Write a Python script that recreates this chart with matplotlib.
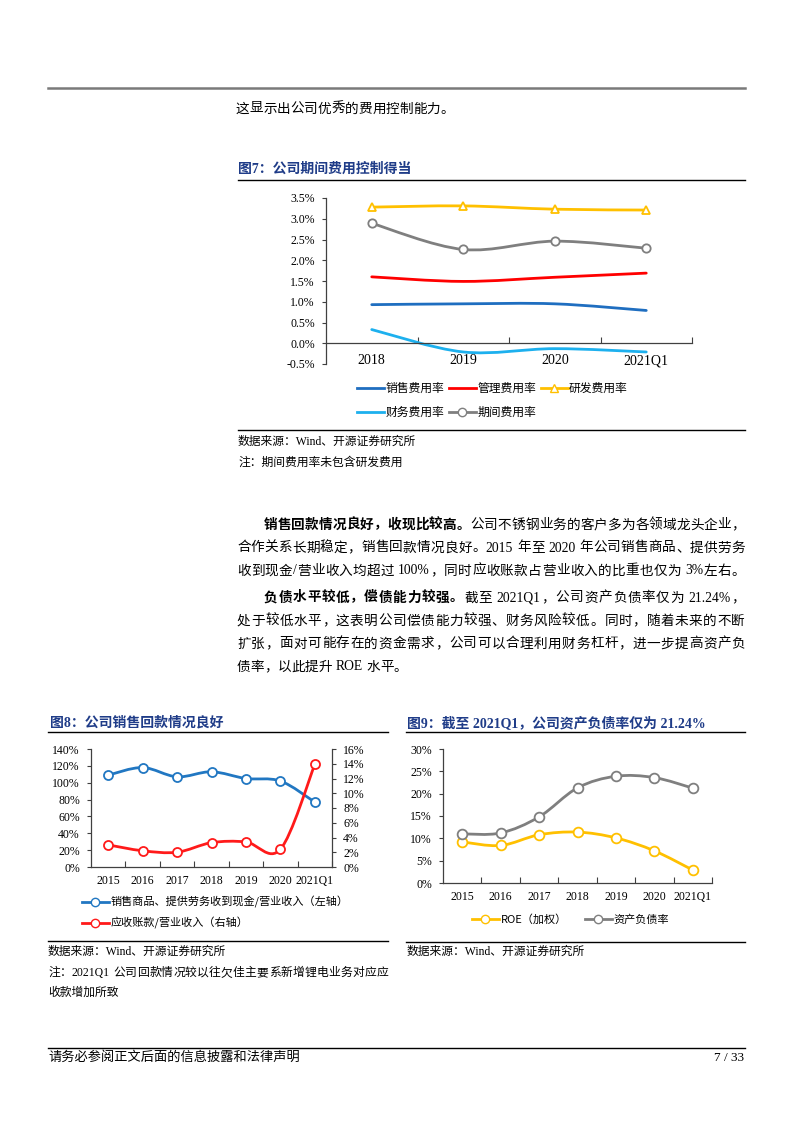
import matplotlib
matplotlib.use('Agg')
import matplotlib.pyplot as plt
from matplotlib.lines import Line2D
from matplotlib.path import Path
from matplotlib.patches import PathPatch

plt.rcParams['font.family'] = ['Liberation Serif', 'Noto Sans CJK SC']

W, H = 793, 1122
NAVY = '#1F3C88'
AXC = '#404040'

# ---- data: figure 7 ----
f7_cats = ['2018', '2019', '2020', '2021Q1']
f7_sales = [0.93, 0.95, 0.95, 0.79]
f7_admin = [1.60, 1.49, 1.59, 1.69]
f7_rd = [3.28, 3.31, 3.23, 3.21]
f7_fin = [0.33, -0.21, -0.13, -0.21]
f7_period = [2.89, 2.26, 2.46, 2.29]
f7_yticks = [-0.5, 0.0, 0.5, 1.0, 1.5, 2.0, 2.5, 3.0, 3.5]
f7_ylabels = ['-0.5%', '0.0%', '0.5%', '1.0%', '1.5%', '2.0%', '2.5%', '3.0%', '3.5%']

# ---- data: figure 8 ----
f8_cats = ['2015', '2016', '2017', '2018', '2019', '2020', '2021Q1']
f8_cash = [109, 118, 107, 113, 105, 102, 77]
f8_recv = [3.0, 2.2, 2.0, 3.3, 3.4, 2.4, 13.9]
f8_left = [0, 20, 40, 60, 80, 100, 120, 140]
f8_right = [0, 2, 4, 6, 8, 10, 12, 14, 16]

# ---- data: figure 9 ----
f9_cats = ['2015', '2016', '2017', '2018', '2019', '2020', '2021Q1']
f9_roe = [9.2, 8.4, 10.8, 11.4, 10.1, 7.2, 2.9]
f9_debt = [11.0, 11.2, 14.8, 21.3, 23.9, 23.6, 21.24]
f9_yticks = [0, 5, 10, 15, 20, 25, 30]

fig = plt.figure(figsize=(W / 100, H / 100), dpi=100)
renderer = fig.canvas.get_renderer()


def fx(x):
    return x / W


def fy(y):
    return 1 - y / H


def add_ax(x0, y0, x1, y1):
    return fig.add_axes([fx(x0), fy(y1), (x1 - x0) / W, (y1 - y0) / H])


def hline(x0, x1, y, lw=1.0, color='black'):
    fig.add_artist(Line2D([fx(x0), fx(x1)], [fy(y), fy(y)], transform=fig.transFigure,
                          lw=lw, color=color))


def txt(x, y, s, size=8.5, ha='left', **kw):
    return fig.text(fx(x), fy(y), s, fontsize=size, ha=ha, va='center', **kw)


def tokenize(s):
    out, buf = [], ''
    for ch in s:
        if ord(ch) < 128 and ch != ' ':
            buf += ch
        else:
            if buf:
                out.append(buf)
                buf = ''
            out.append(ch)
    if buf:
        out.append(buf)
    return out


def text_line(x0, x1, y, segments, size=9.8, justify=True):
    # place tokens one by one, spreading leftover room between them
    items = []
    for s, bold in segments:
        for tk in tokenize(s):
            items.append((tk, bold))
    arts, widths = [], []
    for tk, bold in items:
        if tk == ' ':
            arts.append(None)
            widths.append(size * 100 / 72 * 0.25)
            continue
        t = txt(x0, y, tk, size=size, weight='bold' if bold else 'normal')
        arts.append(t)
        widths.append(t.get_window_extent(renderer).width)
    gap = 0
    if justify and len(items) > 1:
        gap = (x1 - x0 - sum(widths)) / (len(items) - 1)
    x = x0
    for a, w in zip(arts, widths):
        if a is not None:
            a.set_x(fx(x))
        x += w + gap


def smooth(ax, xs, ys, color, lw=2.0, zorder=2):
    pts = list(zip(xs, ys))
    verts, codes = [pts[0]], [Path.MOVETO]
    for i in range(len(pts) - 1):
        p0 = pts[i - 1] if i > 0 else pts[i]
        p1, p2 = pts[i], pts[i + 1]
        p3 = pts[i + 2] if i + 2 < len(pts) else pts[i + 1]
        c1 = (p1[0] + (p2[0] - p0[0]) / 6, p1[1] + (p2[1] - p0[1]) / 6)
        c2 = (p2[0] - (p3[0] - p1[0]) / 6, p2[1] - (p3[1] - p1[1]) / 6)
        verts += [c1, c2, p2]
        codes += [Path.CURVE4] * 3
    ax.add_patch(PathPatch(Path(verts, codes), fill=False, edgecolor=color, lw=lw,
                           zorder=zorder, capstyle='round', joinstyle='round'))


def style_axes(ax, cats, pad):
    n = len(cats)
    ax.set_xlim(0, n)
    for s in ['top', 'right']:
        ax.spines[s].set_visible(False)
    for s in ['left', 'bottom']:
        ax.spines[s].set_color(AXC)
        ax.spines[s].set_linewidth(0.9)
    ax.set_xticks(range(1, n + 1))
    ax.set_xticklabels([])
    ax.set_xticks([i + 0.5 for i in range(n)], minor=True)
    ax.set_xticklabels(cats, minor=True, fontsize=8.5)
    ax.tick_params(axis='x', which='major', direction='in', length=4, color=AXC)
    ax.tick_params(axis='x', which='minor', length=0, pad=pad)
    ax.tick_params(axis='y', direction='out', length=3, color=AXC, labelsize=8.5, pad=5)


# ---------------- page furniture ----------------
hline(48, 745, 88, lw=1.8, color='#7a7a7a')
text_line(236, 745, 109, [('这显示出公司优秀的费用控制能力。', False)], justify=False)

hline(48, 745, 1048, lw=1.0)
txt(48, 1058, '请务必参阅正文后面的信息披露和法律声明', size=9.5)
txt(744, 1058, '7 / 33', size=9.5, ha='right')

# ---------------- figure 7 ----------------
txt(238, 169, '图7：公司期间费用控制得当', size=10, weight='bold', color=NAVY)
hline(238, 745, 180, lw=1.0)

ax7 = add_ax(326, 198, 692, 364)
style_axes(ax7, f7_cats, 8)
ax7.spines['bottom'].set_position(('data', 0))
ax7.set_ylim(-0.5, 3.5)
ax7.set_yticks(f7_yticks)
ax7.set_yticklabels(f7_ylabels)
x7 = [i + 0.5 for i in range(len(f7_cats))]
c_sales, c_admin, c_rd, c_fin, c_per = '#1F6EC0', '#FF0000', '#FFC000', '#1DB0EE', '#7F7F7F'
smooth(ax7, x7, f7_sales, c_sales)
smooth(ax7, x7, f7_admin, c_admin)
smooth(ax7, x7, f7_rd, c_rd)
smooth(ax7, x7, f7_fin, c_fin)
smooth(ax7, x7, f7_period, c_per)
ax7.plot(x7, f7_rd, ls='none', marker='^', ms=6, mfc='white', mec=c_rd, mew=1.3, zorder=3)
ax7.plot(x7, f7_period, ls='none', marker='o', ms=6, mfc='white', mec=c_per, mew=1.3, zorder=3)

h_sales = Line2D([], [], color=c_sales, lw=2)
h_admin = Line2D([], [], color=c_admin, lw=2)
h_rd = Line2D([], [], color=c_rd, lw=2, marker='^', ms=6, mfc='white', mec=c_rd)
h_fin = Line2D([], [], color=c_fin, lw=2)
h_per = Line2D([], [], color=c_per, lw=2, marker='o', ms=6, mfc='white', mec=c_per)
fig.legend([h_sales, h_fin, h_admin, h_per, h_rd],
           ['销售费用率', '财务费用率', '管理费用率', '期间费用率', '研发费用率'],
           ncol=3, loc='upper left', bbox_to_anchor=(fx(357), fy(382)),
           bbox_transform=fig.transFigure, frameon=False, borderpad=0, borderaxespad=0,
           handlelength=2.3, handletextpad=0.1, columnspacing=0.4, labelspacing=0.95,
           prop={'family': 'Noto Sans CJK SC', 'size': 8.5})

hline(238, 745, 430, lw=1.0)
txt(238, 442, '数据来源：Wind、开源证券研究所', size=8.5)
txt(238, 463, '注：期间费用率未包含研发费用', size=8.5)

# ---------------- body text ----------------
text_line(264, 745, 525, [('销售回款情况良好，收现比较高。', True),
                          ('公司不锈钢业务的客户多为各领域龙头企业，', False)])
text_line(237, 745, 548, [('合作关系长期稳定，销售回款情况良好。2015 年至 2020 年公司销售商品、提供劳务', False)])
text_line(237, 745, 571, [('收到现金/营业收入均超过 100%，同时应收账款占营业收入的比重也仅为 3%左右。', False)])
text_line(264, 745, 598, [('负债水平较低，偿债能力较强。', True),
                          ('截至 2021Q1，公司资产负债率仅为 21.24%，', False)])
text_line(237, 745, 621, [('处于较低水平，这表明公司偿债能力较强、财务风险较低。同时，随着未来的不断', False)])
text_line(237, 745, 644, [('扩张，面对可能存在的资金需求，公司可以合理利用财务杠杆，进一步提高资产负', False)])
text_line(237, 745, 667, [('债率，以此提升 ROE 水平。', False)], justify=False)

# ---------------- figure 8 ----------------
txt(50, 723, '图8：公司销售回款情况良好', size=10, weight='bold', color=NAVY)
hline(48, 388, 732, lw=1.0)

ax8 = add_ax(91, 749, 332, 867)
style_axes(ax8, f8_cats, 6)
ax8.set_ylim(0, 140)
ax8.set_yticks(f8_left)
ax8.set_yticklabels([f'{v}%' for v in f8_left])
ax8r = ax8.twinx()
ax8r.set_ylim(0, 16)
ax8r.set_yticks(f8_right)
ax8r.set_yticklabels([f'{v}%' for v in f8_right])
for s in ['top', 'left', 'bottom']:
    ax8r.spines[s].set_visible(False)
ax8r.spines['right'].set_color(AXC)
ax8r.spines['right'].set_linewidth(0.9)
ax8r.tick_params(axis='y', direction='out', length=3, color=AXC, labelsize=8.5, pad=5)
x8 = [i + 0.5 for i in range(len(f8_cats))]
c_cash, c_recv = '#2177C2', '#FF1A1A'
smooth(ax8, x8, f8_cash, c_cash)
ax8.plot(x8, f8_cash, ls='none', marker='o', ms=6.5, mfc='white', mec=c_cash, mew=1.3, zorder=3)
smooth(ax8r, x8, f8_recv, c_recv)
ax8r.plot(x8, f8_recv, ls='none', marker='o', ms=6.5, mfc='white', mec=c_recv, mew=1.3, zorder=3)

h_cash = Line2D([], [], color=c_cash, lw=2, marker='o', ms=6, mfc='white', mec=c_cash)
h_recv = Line2D([], [], color=c_recv, lw=2, marker='o', ms=6, mfc='white', mec=c_recv)
fig.legend([h_cash, h_recv],
           ['销售商品、提供劳务收到现金/营业收入（左轴）', '应收账款/营业收入（右轴）'],
           loc='upper left', bbox_to_anchor=(fx(82), fy(896)),
           bbox_transform=fig.transFigure, frameon=False, borderpad=0, borderaxespad=0,
           handlelength=2.4, handletextpad=0.2, labelspacing=0.8,
           prop={'family': 'Noto Sans CJK SC', 'size': 8})

hline(48, 388, 941, lw=1.0)
txt(48, 952, '数据来源：Wind、开源证券研究所', size=8.5)
text_line(48, 388, 973, [('注：2021Q1 公司回款情况较以往欠佳主要系新增锂电业务对应应', False)], size=8.5)
txt(48, 993, '收款增加所致', size=8.5)

# ---------------- figure 9 ----------------
txt(407, 723, '图9：截至 2021Q1，公司资产负债率仅为 21.24%', size=10, weight='bold', color=NAVY)
hline(406, 745, 732, lw=1.0)

ax9 = add_ax(443, 749, 712, 883)
style_axes(ax9, f9_cats, 6)
ax9.set_ylim(0, 30)
ax9.set_yticks(f9_yticks)
ax9.set_yticklabels([f'{v}%' for v in f9_yticks])
x9 = [i + 0.5 for i in range(len(f9_cats))]
c_roe, c_debt = '#FFC000', '#7F7F7F'
smooth(ax9, x9, f9_roe, c_roe)
smooth(ax9, x9, f9_debt, c_debt)
ax9.plot(x9, f9_roe, ls='none', marker='o', ms=7, mfc='white', mec=c_roe, mew=1.3, zorder=3)
ax9.plot(x9, f9_debt, ls='none', marker='o', ms=7, mfc='white', mec=c_debt, mew=1.3, zorder=3)

h_roe = Line2D([], [], color=c_roe, lw=2, marker='o', ms=6, mfc='white', mec=c_roe)
h_debt = Line2D([], [], color=c_debt, lw=2, marker='o', ms=6, mfc='white', mec=c_debt)
fig.legend([h_roe, h_debt], ['ROE（加权）', '资产负债率'], ncol=2,
           loc='upper left', bbox_to_anchor=(fx(472), fy(914)),
           bbox_transform=fig.transFigure, frameon=False, borderpad=0, borderaxespad=0,
           handlelength=2.4, handletextpad=0.2, columnspacing=1.6,
           prop={'family': 'Noto Sans CJK SC', 'size': 8})

hline(406, 745, 942, lw=1.0)
txt(407, 952, '数据来源：Wind、开源证券研究所', size=8.5)

fig.savefig('out.png', dpi=100)
